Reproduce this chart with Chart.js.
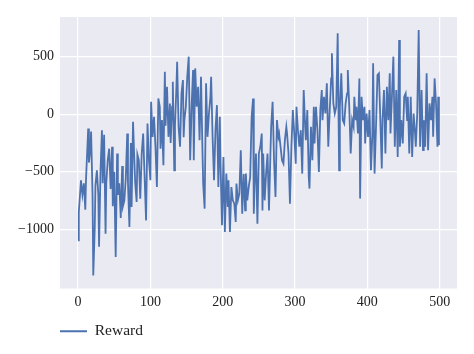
<!DOCTYPE html>
<html lang="en">
<head>
  <meta charset="UTF-8">
  <title>Reward</title>
  <script src="https://cdn.jsdelivr.net/npm/chart.js"></script>
  <style>
    html, body { margin: 0; padding: 0; background: #fff; }
  </style>
</head>
<body>
  <canvas id="rewardChart" width="474" height="354"></canvas>

  <script>
    // values
    const episodes = [
      0,1,2,4,6,8,10,11,14,15,17,18,20,21,23,24,26,28,29,31,33,34,36,38,39,41,43,45,47,48,
      50,52,54,55,57,59,61,62,64,66,68,69,71,73,74,76,78,79,81,82,84,86,88,90,92,94,96,98,
      100,101,103,105,107,109,111,113,114,116,118,120,121,123,125,127,128,130,131,133,134,136,137,139,141,143,145,146,147,149,
      151,153,155,157,159,160,162,164,166,168,170,172,173,175,177,179,181,183,184,186,188,190,192,194,196,197,199,
      201,203,205,207,208,210,212,214,216,218,219,221,223,225,227,229,231,232,234,236,238,240,242,243,244,246,248,
      250,252,254,255,256,258,260,262,264,266,267,269,271,273,275,277,278,280,282,284,286,288,289,291,293,295,297,299,
      301,302,304,306,308,310,312,314,315,317,319,320,322,324,326,327,329,331,333,335,337,338,340,342,344,346,348,
      350,351,353,355,357,359,361,362,364,366,368,370,372,373,375,377,379,381,382,384,385,387,389,390,392,394,396,397,399,
      401,403,405,407,408,410,412,414,416,418,420,421,423,425,427,429,431,432,434,436,438,440,442,444,445,447,449,
      451,453,455,456,458,460,462,464,466,467,469,471,473,475,477,478,480,482,484,486,488,490,491,493,495,497,498,499
    ];
    const rewards = [
      -1096,-850,-760,-574,-700,-600,-830,-560,-125,-420,-300,-150,-700,-1400,-1000,-620,-487,-700,-1150,-500,-139,-600,-180,-1038,-600,-400,-300,-650,-283,-800,
      -500,-1240,-342,-700,-600,-900,-450,-800,-750,-550,-168,-600,-980,-250,-806,-67,-430,-600,-762,-350,-400,-733,-342,-168,-545,-922,-81,-400,
      -574,107,-197,-23,-283,-632,136,64,-300,-52,-443,368,-100,238,-197,93,-250,64,281,-487,-100,238,455,-110,-283,180,296,-200,-52,64,
      325,499,-400,64,383,-400,397,64,238,-226,325,-313,-603,-820,267,-197,6,151,325,-197,-574,-139,78,-632,-23,-430,-965,
      -371,-1023,-516,-806,-574,-1023,-632,-748,-777,-936,-603,-748,-690,-313,-864,-520,-835,-516,-748,-632,-545,-23,136,-864,-632,-342,-951,
      -342,-283,-168,-835,-342,-748,-516,-342,-835,-342,-110,107,-400,-719,-52,-197,-168,-283,-400,-430,-226,-110,-168,-342,-777,-283,35,-168,
      -430,64,-139,-283,-139,-516,209,-110,-226,35,-545,-646,-110,-400,64,-255,64,-139,-501,35,209,-52,151,6,267,-283,35,
      310,528,93,6,64,701,-487,64,354,-52,-81,93,180,383,64,-342,-52,-110,151,-52,64,-168,310,-733,151,-52,64,-255,6,
      -197,35,-487,-168,441,-516,-110,339,354,-52,-472,-52,209,-342,238,-52,354,-168,151,499,-283,209,-371,643,-283,-52,-255,
      151,180,-52,151,-342,151,-371,6,-168,-283,6,730,-283,209,-313,-52,-283,354,-313,93,-52,151,-197,310,93,-283,151,-270
    ];
    const xTicks = [0, 100, 200, 300, 400, 500];
    const yTicks = [-1000, -500, 0, 500];

    const plotBackground = {
      id: "plotBackground",
      beforeDraw(chart) {
        const { ctx, chartArea } = chart;
        ctx.save();
        ctx.fillStyle = "#EAEAF2";
        ctx.fillRect(chartArea.left, chartArea.top, chartArea.right - chartArea.left, chartArea.bottom - chartArea.top);
        ctx.restore();
      }
    };

    const serif = "'Liberation Serif', 'DejaVu Serif', serif";
    const tickFont = { family: serif, size: 14 };
    const minus = v => (v < 0 ? "\u2212" + Math.abs(v) : String(v));

    new Chart(document.getElementById("rewardChart"), {
      type: "line",
      data: {
        labels: episodes,
        datasets: [{
          label: "Reward",
          data: episodes.map((e, i) => ({ x: e, y: rewards[i] })),
          borderColor: "#4C72B0",
          backgroundColor: "#4C72B0",
          borderWidth: 1.8,
          pointRadius: 0,
          tension: 0,
          fill: false
        }]
      },
      options: {
        responsive: false,
        animation: false,
        devicePixelRatio: 1,
        layout: { padding: { left: 0, right: 17, top: 17, bottom: 5 } },
        scales: {
          x: {
            type: "linear",
            min: -25,
            max: 524,
            afterBuildTicks: s => { s.ticks = xTicks.map(v => ({ value: v })); },
            afterFit: s => { s.height = 35; },
            grid: { color: "#ffffff", lineWidth: 1.2, drawTicks: false },
            border: { display: false },
            ticks: { font: tickFont, color: "#222", padding: 5, maxRotation: 0 }
          },
          y: {
            min: -1513,
            max: 843,
            afterBuildTicks: s => { s.ticks = yTicks.map(v => ({ value: v })); },
            afterFit: s => { s.width = 60; },
            grid: { color: "#ffffff", lineWidth: 1.2, drawTicks: false },
            border: { display: false },
            ticks: { font: tickFont, color: "#222", padding: 6, callback: minus }
          }
        },
        plugins: {
          legend: {
            position: "bottom",
            align: "start",
            fullSize: false,
            labels: {
              usePointStyle: true,
              pointStyle: "line",
              pointStyleWidth: 27,
              color: "#222",
              font: { family: serif, size: 15.5 },
              padding: 0
            }
          },
          tooltip: { enabled: false }
        }
      },
      plugins: [plotBackground]
    });
  </script>
</body>
</html>
